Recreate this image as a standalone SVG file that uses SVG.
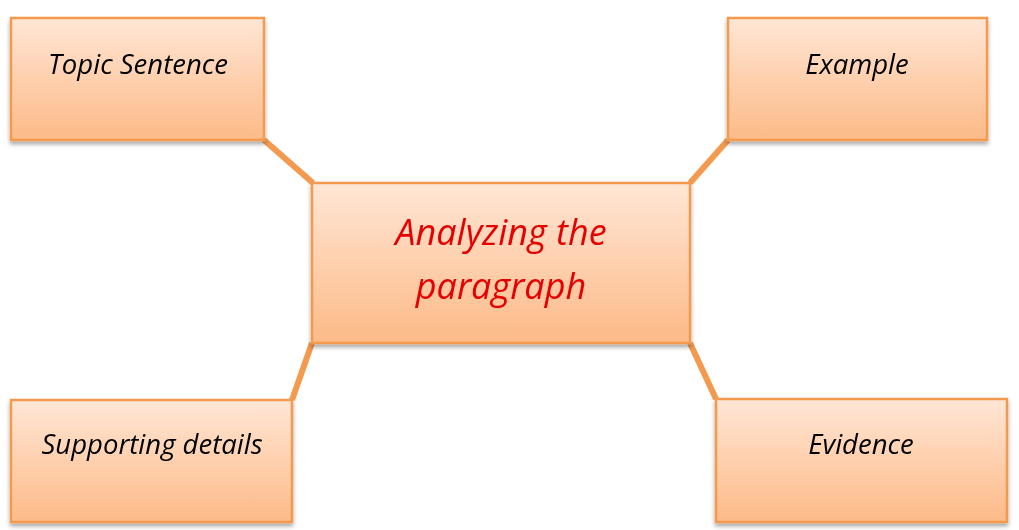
<svg xmlns="http://www.w3.org/2000/svg" width="1019" height="530" viewBox="0 0 1019 530">
<style>
.box{fill:url(#g);stroke:#f39a4f;stroke-width:2.5}
.lbl{font-family:"Open Sans","Noto Sans",sans-serif;font-style:italic;font-size:27.5px;fill:#000;text-anchor:middle}
.ctr{font-family:"Open Sans","Noto Sans",sans-serif;font-style:italic;font-size:36px;fill:#e60000;text-anchor:middle}
.con{stroke:#f39a4f;stroke-width:6;fill:none;stroke-linecap:butt}
</style>
<defs>
<linearGradient id="g" x1="0" y1="0" x2="0" y2="1">
<stop offset="0" stop-color="#ffe6d6"/>
<stop offset="0.5" stop-color="#fed0ae"/>
<stop offset="1" stop-color="#fcba88"/>
</linearGradient>
<filter id="sh" x="-5%" y="-5%" width="115%" height="125%">
<feGaussianBlur in="SourceAlpha" stdDeviation="2"/>
<feOffset dx="0" dy="3"/>
<feComponentTransfer><feFuncA type="linear" slope="0.35"/></feComponentTransfer>
<feMerge><feMergeNode/><feMergeNode in="SourceGraphic"/></feMerge>
</filter>
</defs>
<rect width="1019" height="530" fill="#fff"/>
<g id="connectors">
<line class="con" x1="264" y1="140" x2="313" y2="183"/>
<line class="con" x1="728" y1="140" x2="690" y2="183"/>
<line class="con" x1="312" y1="343" x2="292" y2="400"/>
<line class="con" x1="690" y1="343" x2="716" y2="399"/>
</g>
<g id="center" filter="url(#sh)">
<rect class="box" x="312" y="183" width="378" height="160"/>
<text class="ctr" x="501" y="245">Analyzing the</text>
<text class="ctr" x="501" y="299">paragraph</text>
</g>
<g id="topic" filter="url(#sh)">
<rect class="box" x="11" y="18" width="253" height="122"/>
<text class="lbl" x="138" y="74">Topic Sentence</text>
</g>
<g id="example" filter="url(#sh)">
<rect class="box" x="728" y="18" width="259" height="122"/>
<text class="lbl" x="857" y="74">Example</text>
</g>
<g id="supporting" filter="url(#sh)">
<rect class="box" x="11" y="400" width="281" height="122"/>
<text class="lbl" x="152" y="454">Supporting details</text>
</g>
<g id="evidence" filter="url(#sh)">
<rect class="box" x="716" y="399" width="291" height="123"/>
<text class="lbl" x="861" y="454">Evidence</text>
</g>
</svg>
